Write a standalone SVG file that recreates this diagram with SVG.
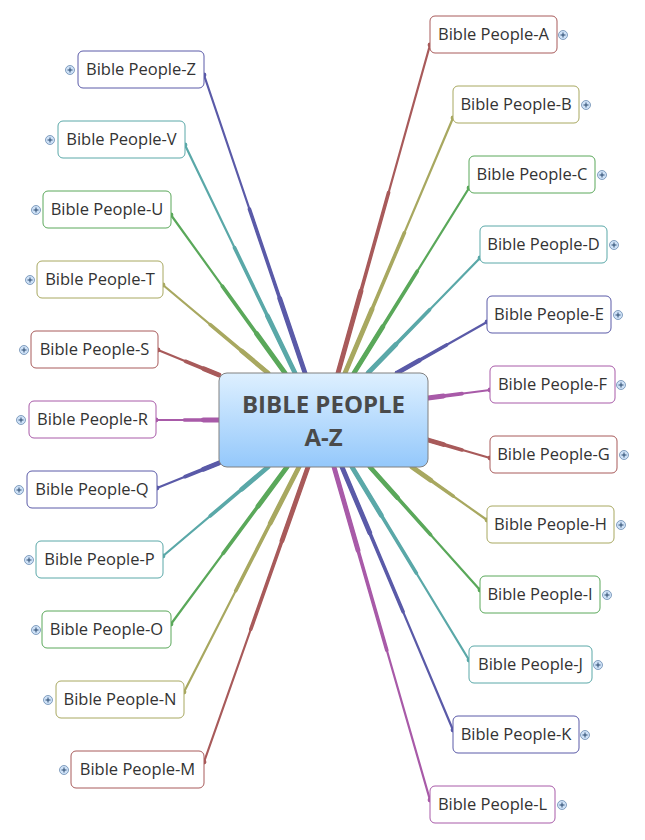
<svg xmlns="http://www.w3.org/2000/svg" width="645" height="840" viewBox="0 0 645 840">
<style>
.n rect{fill:#fff;stroke-width:1}
.n text{font-family:"Open Sans","Noto Sans",sans-serif;font-size:16.5px;fill:#333}
.c line{stroke-linecap:round;fill:none}
.t{stroke-width:2.2}
.k{stroke-width:3.6;stroke-dasharray:0 0.45 0.55}
.m{stroke-width:4.8;stroke-dasharray:0 0.75 0.25}
.pl circle{fill:#cfe2f7;stroke:#6a8ab0;stroke-width:0.8}
.pl path{stroke:#2a4a70;stroke-width:1}
.r{stroke:#a85a5a}.o{stroke:#a8a860}.g{stroke:#5aa85a}.e{stroke:#5aa8a8}.b{stroke:#5a5aa8}.p{stroke:#a85aa8}
</style>
<defs>
<linearGradient id="cg" x1="0" y1="0" x2="0" y2="1"><stop offset="0" stop-color="#def0ff"/><stop offset="1" stop-color="#94c8fb"/></linearGradient>
<g id="plus" class="pl"><circle r="4.5"/><path d="M-2.5 0H2.5M0 -2.5V2.5"/></g>
<line id="cA" x1="430" y1="45" x2="338" y2="373"/>
<line id="cB" x1="453" y1="118" x2="345" y2="373"/>
<line id="cC" x1="469" y1="188" x2="354" y2="373"/>
<line id="cD" x1="480" y1="258" x2="368" y2="373"/>
<line id="cE" x1="487" y1="322" x2="397" y2="373"/>
<line id="cF" x1="490" y1="390" x2="428" y2="398"/>
<line id="cG" x1="490" y1="458" x2="428" y2="440"/>
<line id="cH" x1="487" y1="520" x2="412" y2="467"/>
<line id="cI" x1="480" y1="590" x2="370" y2="467"/>
<line id="cJ" x1="469" y1="660" x2="352" y2="467"/>
<line id="cK" x1="453" y1="730" x2="342" y2="467"/>
<line id="cL" x1="430" y1="800" x2="334" y2="467"/>
<line id="cZ" x1="204" y1="75" x2="305" y2="373"/>
<line id="cV" x1="185" y1="145" x2="295" y2="373"/>
<line id="cU" x1="171" y1="215" x2="285" y2="373"/>
<line id="cT" x1="163" y1="285" x2="268" y2="373"/>
<line id="cS" x1="158" y1="350" x2="219" y2="375"/>
<line id="cR" x1="156" y1="420" x2="219" y2="420"/>
<line id="cQ" x1="157" y1="488" x2="219" y2="463"/>
<line id="cP" x1="163" y1="556" x2="268" y2="467"/>
<line id="cO" x1="171" y1="624" x2="287" y2="467"/>
<line id="cN" x1="184" y1="692" x2="299" y2="467"/>
<line id="cM" x1="204" y1="762" x2="308" y2="467"/>
</defs>
<g id="connectors" class="c">
<g class="r"><line class="t" x1="430" y1="45" x2="338" y2="373"/><line class="k" pathLength="1" x1="430" y1="45" x2="338" y2="373"/><line class="m" pathLength="1" x1="430" y1="45" x2="338" y2="373"/></g>
<g class="o"><line class="t" x1="453" y1="118" x2="345" y2="373"/><line class="k" pathLength="1" x1="453" y1="118" x2="345" y2="373"/><line class="m" pathLength="1" x1="453" y1="118" x2="345" y2="373"/></g>
<g class="g"><line class="t" x1="469" y1="188" x2="354" y2="373"/><line class="k" pathLength="1" x1="469" y1="188" x2="354" y2="373"/><line class="m" pathLength="1" x1="469" y1="188" x2="354" y2="373"/></g>
<g class="e"><line class="t" x1="480" y1="258" x2="368" y2="373"/><line class="k" pathLength="1" x1="480" y1="258" x2="368" y2="373"/><line class="m" pathLength="1" x1="480" y1="258" x2="368" y2="373"/></g>
<g class="b"><line class="t" x1="487" y1="322" x2="397" y2="373"/><line class="k" pathLength="1" x1="487" y1="322" x2="397" y2="373"/><line class="m" pathLength="1" x1="487" y1="322" x2="397" y2="373"/></g>
<g class="p"><line class="t" x1="490" y1="390" x2="428" y2="398"/><line class="k" pathLength="1" x1="490" y1="390" x2="428" y2="398"/><line class="m" pathLength="1" x1="490" y1="390" x2="428" y2="398"/></g>
<g class="r"><line class="t" x1="490" y1="458" x2="428" y2="440"/><line class="k" pathLength="1" x1="490" y1="458" x2="428" y2="440"/><line class="m" pathLength="1" x1="490" y1="458" x2="428" y2="440"/></g>
<g class="o"><line class="t" x1="487" y1="520" x2="412" y2="467"/><line class="k" pathLength="1" x1="487" y1="520" x2="412" y2="467"/><line class="m" pathLength="1" x1="487" y1="520" x2="412" y2="467"/></g>
<g class="g"><line class="t" x1="480" y1="590" x2="370" y2="467"/><line class="k" pathLength="1" x1="480" y1="590" x2="370" y2="467"/><line class="m" pathLength="1" x1="480" y1="590" x2="370" y2="467"/></g>
<g class="e"><line class="t" x1="469" y1="660" x2="352" y2="467"/><line class="k" pathLength="1" x1="469" y1="660" x2="352" y2="467"/><line class="m" pathLength="1" x1="469" y1="660" x2="352" y2="467"/></g>
<g class="b"><line class="t" x1="453" y1="730" x2="342" y2="467"/><line class="k" pathLength="1" x1="453" y1="730" x2="342" y2="467"/><line class="m" pathLength="1" x1="453" y1="730" x2="342" y2="467"/></g>
<g class="p"><line class="t" x1="430" y1="800" x2="334" y2="467"/><line class="k" pathLength="1" x1="430" y1="800" x2="334" y2="467"/><line class="m" pathLength="1" x1="430" y1="800" x2="334" y2="467"/></g>
<g class="b"><line class="t" x1="204" y1="75" x2="305" y2="373"/><line class="k" pathLength="1" x1="204" y1="75" x2="305" y2="373"/><line class="m" pathLength="1" x1="204" y1="75" x2="305" y2="373"/></g>
<g class="e"><line class="t" x1="185" y1="145" x2="295" y2="373"/><line class="k" pathLength="1" x1="185" y1="145" x2="295" y2="373"/><line class="m" pathLength="1" x1="185" y1="145" x2="295" y2="373"/></g>
<g class="g"><line class="t" x1="171" y1="215" x2="285" y2="373"/><line class="k" pathLength="1" x1="171" y1="215" x2="285" y2="373"/><line class="m" pathLength="1" x1="171" y1="215" x2="285" y2="373"/></g>
<g class="o"><line class="t" x1="163" y1="285" x2="268" y2="373"/><line class="k" pathLength="1" x1="163" y1="285" x2="268" y2="373"/><line class="m" pathLength="1" x1="163" y1="285" x2="268" y2="373"/></g>
<g class="r"><line class="t" x1="158" y1="350" x2="219" y2="375"/><line class="k" pathLength="1" x1="158" y1="350" x2="219" y2="375"/><line class="m" pathLength="1" x1="158" y1="350" x2="219" y2="375"/></g>
<g class="p"><line class="t" x1="156" y1="420" x2="219" y2="420"/><line class="k" pathLength="1" x1="156" y1="420" x2="219" y2="420"/><line class="m" pathLength="1" x1="156" y1="420" x2="219" y2="420"/></g>
<g class="b"><line class="t" x1="157" y1="488" x2="219" y2="463"/><line class="k" pathLength="1" x1="157" y1="488" x2="219" y2="463"/><line class="m" pathLength="1" x1="157" y1="488" x2="219" y2="463"/></g>
<g class="e"><line class="t" x1="163" y1="556" x2="268" y2="467"/><line class="k" pathLength="1" x1="163" y1="556" x2="268" y2="467"/><line class="m" pathLength="1" x1="163" y1="556" x2="268" y2="467"/></g>
<g class="g"><line class="t" x1="171" y1="624" x2="287" y2="467"/><line class="k" pathLength="1" x1="171" y1="624" x2="287" y2="467"/><line class="m" pathLength="1" x1="171" y1="624" x2="287" y2="467"/></g>
<g class="o"><line class="t" x1="184" y1="692" x2="299" y2="467"/><line class="k" pathLength="1" x1="184" y1="692" x2="299" y2="467"/><line class="m" pathLength="1" x1="184" y1="692" x2="299" y2="467"/></g>
<g class="r"><line class="t" x1="204" y1="762" x2="308" y2="467"/><line class="k" pathLength="1" x1="204" y1="762" x2="308" y2="467"/><line class="m" pathLength="1" x1="204" y1="762" x2="308" y2="467"/></g>
</g>
<g id="center"><rect x="219" y="373" width="209" height="94" rx="8" fill="url(#cg)" stroke="#808080"/>
<text x="323.5" y="413" text-anchor="middle" font-family="'Open Sans','Noto Sans',sans-serif" font-weight="bold" font-size="24" fill="#4a4a4a">BIBLE PEOPLE</text>
<text x="323.5" y="446" text-anchor="middle" font-family="'Open Sans','Noto Sans',sans-serif" font-weight="bold" font-size="24" fill="#4a4a4a">A-Z</text></g>
<g id="nA" class="n"><rect x="430" y="16" width="127" height="37" rx="5" class="r"/><text x="493.5" y="40" text-anchor="middle">Bible People-A</text><use href="#plus" x="563" y="35"/></g>
<g id="nB" class="n"><rect x="453" y="86" width="126" height="37" rx="5" class="o"/><text x="516" y="110" text-anchor="middle">Bible People-B</text><use href="#plus" x="586" y="105"/></g>
<g id="nC" class="n"><rect x="469" y="156" width="126" height="37" rx="5" class="g"/><text x="532" y="180" text-anchor="middle">Bible People-C</text><use href="#plus" x="602" y="175"/></g>
<g id="nD" class="n"><rect x="480" y="226" width="127" height="37" rx="5" class="e"/><text x="543.5" y="250" text-anchor="middle">Bible People-D</text><use href="#plus" x="614" y="245"/></g>
<g id="nE" class="n"><rect x="487" y="296" width="124" height="37" rx="5" class="b"/><text x="549" y="320" text-anchor="middle">Bible People-E</text><use href="#plus" x="618" y="315"/></g>
<g id="nF" class="n"><rect x="490" y="366" width="125" height="37" rx="5" class="p"/><text x="552.5" y="390" text-anchor="middle">Bible People-F</text><use href="#plus" x="621" y="385"/></g>
<g id="nG" class="n"><rect x="490" y="436" width="127" height="37" rx="5" class="r"/><text x="553.5" y="460" text-anchor="middle">Bible People-G</text><use href="#plus" x="624" y="455"/></g>
<g id="nH" class="n"><rect x="487" y="506" width="127" height="37" rx="5" class="o"/><text x="550.5" y="530" text-anchor="middle">Bible People-H</text><use href="#plus" x="621" y="525"/></g>
<g id="nI" class="n"><rect x="480" y="576" width="120" height="37" rx="5" class="g"/><text x="540" y="600" text-anchor="middle">Bible People-I</text><use href="#plus" x="607" y="595"/></g>
<g id="nJ" class="n"><rect x="469" y="646" width="123" height="37" rx="5" class="e"/><text x="530.5" y="670" text-anchor="middle">Bible People-J</text><use href="#plus" x="598" y="665"/></g>
<g id="nK" class="n"><rect x="453" y="716" width="126" height="37" rx="5" class="b"/><text x="516" y="740" text-anchor="middle">Bible People-K</text><use href="#plus" x="585" y="735"/></g>
<g id="nL" class="n"><rect x="430" y="786" width="125" height="37" rx="5" class="p"/><text x="492.5" y="810" text-anchor="middle">Bible People-L</text><use href="#plus" x="562" y="805"/></g>
<g id="nZ" class="n"><rect x="78" y="51" width="126" height="37" rx="5" class="b"/><text x="141" y="75" text-anchor="middle">Bible People-Z</text><use href="#plus" x="70" y="70"/></g>
<g id="nV" class="n"><rect x="58" y="121" width="127" height="37" rx="5" class="e"/><text x="121.5" y="145" text-anchor="middle">Bible People-V</text><use href="#plus" x="50" y="140"/></g>
<g id="nU" class="n"><rect x="43" y="191" width="128" height="37" rx="5" class="g"/><text x="107" y="215" text-anchor="middle">Bible People-U</text><use href="#plus" x="36" y="210"/></g>
<g id="nT" class="n"><rect x="37" y="261" width="126" height="37" rx="5" class="o"/><text x="100" y="285" text-anchor="middle">Bible People-T</text><use href="#plus" x="30" y="280"/></g>
<g id="nS" class="n"><rect x="31" y="331" width="127" height="37" rx="5" class="r"/><text x="94.5" y="355" text-anchor="middle">Bible People-S</text><use href="#plus" x="24" y="350"/></g>
<g id="nR" class="n"><rect x="29" y="401" width="127" height="37" rx="5" class="p"/><text x="92.5" y="425" text-anchor="middle">Bible People-R</text><use href="#plus" x="21" y="420"/></g>
<g id="nQ" class="n"><rect x="27" y="471" width="130" height="37" rx="5" class="b"/><text x="92" y="495" text-anchor="middle">Bible People-Q</text><use href="#plus" x="19" y="490"/></g>
<g id="nP" class="n"><rect x="36" y="541" width="127" height="37" rx="5" class="e"/><text x="99.5" y="565" text-anchor="middle">Bible People-P</text><use href="#plus" x="29" y="560"/></g>
<g id="nO" class="n"><rect x="42" y="611" width="129" height="37" rx="5" class="g"/><text x="106.5" y="635" text-anchor="middle">Bible People-O</text><use href="#plus" x="36" y="630"/></g>
<g id="nN" class="n"><rect x="56" y="681" width="128" height="37" rx="5" class="o"/><text x="120" y="705" text-anchor="middle">Bible People-N</text><use href="#plus" x="48" y="700"/></g>
<g id="nM" class="n"><rect x="71" y="751" width="133" height="37" rx="5" class="r"/><text x="137.5" y="775" text-anchor="middle">Bible People-M</text><use href="#plus" x="64" y="770"/></g>
</svg>
